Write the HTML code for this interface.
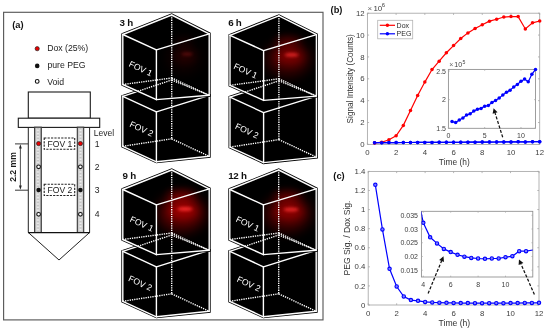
<!DOCTYPE html>
<html><head><meta charset="utf-8"><style>
html,body{margin:0;padding:0;background:#fff;}
svg{display:block;will-change:transform;}
text{font-family:"Liberation Sans", sans-serif;}
</style></head><body>
<svg width="550" height="331" viewBox="0 0 550 331">
<rect width="550" height="331" fill="#fff"/>
<rect x="3.6" y="12.3" width="319.4" height="307.6" fill="none" stroke="#5a5a5a" stroke-width="1.15"/>
<text x="12.2" y="27.6" font-size="9.3" font-weight="bold" fill="#111">(a)</text>
<circle cx="37.2" cy="48.7" r="2.1" fill="#e80000" stroke="#222" stroke-width="0.7"/>
<text x="47.2" y="50.7" font-size="8.7" fill="#222">Dox (25%)</text>
<circle cx="37.2" cy="65.9" r="2.3" fill="#111"/>
<text x="47.4" y="68.4" font-size="8.7" fill="#222">pure PEG</text>
<circle cx="37.2" cy="81.4" r="1.85" fill="#fff" stroke="#111" stroke-width="1.1"/>
<text x="47.2" y="84.7" font-size="8.7" fill="#222">Void</text>
<rect x="28.3" y="92" width="62" height="26.2" fill="#fff" stroke="#1a1a1a" stroke-width="1.1"/>
<rect x="18.3" y="118.2" width="81.4" height="9.2" fill="#fff" stroke="#1a1a1a" stroke-width="1.1"/>
<defs><filter id="blurA" x="-100%" y="-100%" width="300%" height="300%"><feGaussianBlur stdDeviation="6"/></filter><filter id="blurB" x="-100%" y="-100%" width="300%" height="300%"><feGaussianBlur stdDeviation="1.6"/></filter><filter id="blurC" x="-100%" y="-100%" width="300%" height="300%"><feGaussianBlur stdDeviation="4"/></filter></defs>
<defs><linearGradient id="ch" x1="0" x2="1" y1="0" y2="0"><stop offset="0" stop-color="#a0a0a0"/><stop offset="0.22" stop-color="#d4d4d4"/><stop offset="0.5" stop-color="#eeeeee"/><stop offset="0.78" stop-color="#d4d4d4"/><stop offset="1" stop-color="#a0a0a0"/></linearGradient></defs>
<line x1="28.3" y1="127.2" x2="28.3" y2="232.5" stroke="#222" stroke-width="1"/>
<line x1="89.6" y1="127.2" x2="89.6" y2="232.5" stroke="#222" stroke-width="1"/>
<rect x="34.6" y="127.2" width="6.7" height="105.3" fill="url(#ch)" stroke="#3a3a3a" stroke-width="1.1"/>
<line x1="37.95" y1="128" x2="37.95" y2="232" stroke="#c6c6c6" stroke-width="2.2" stroke-dasharray="1.6 1.6"/>
<rect x="77.3" y="127.2" width="6.4" height="105.3" fill="url(#ch)" stroke="#3a3a3a" stroke-width="1.1"/>
<line x1="80.5" y1="128" x2="80.5" y2="232" stroke="#c6c6c6" stroke-width="2.2" stroke-dasharray="1.6 1.6"/>
<polygon points="28.3,232.5 89.6,232.5 59,260" fill="#fff" stroke="#222" stroke-width="1"/><line x1="28" y1="232.6" x2="89.9" y2="232.6" stroke="#111" stroke-width="1.3"/>
<circle cx="38.6" cy="143.6" r="2.1" fill="#e80000" stroke="#222" stroke-width="0.7"/>
<circle cx="80.4" cy="143.6" r="2.1" fill="#e80000" stroke="#222" stroke-width="0.7"/>
<text x="94.8" y="146.5" font-size="8.6" fill="#222">1</text>
<circle cx="38.6" cy="166.8" r="1.85" fill="#fff" stroke="#111" stroke-width="1.1"/>
<circle cx="80.4" cy="166.8" r="1.85" fill="#fff" stroke="#111" stroke-width="1.1"/>
<text x="94.8" y="169.7" font-size="8.6" fill="#222">2</text>
<circle cx="38.6" cy="190.0" r="2.3" fill="#111"/>
<circle cx="80.4" cy="190.0" r="2.3" fill="#111"/>
<text x="94.8" y="192.9" font-size="8.6" fill="#222">3</text>
<circle cx="38.6" cy="214.3" r="1.85" fill="#fff" stroke="#111" stroke-width="1.1"/>
<circle cx="80.4" cy="214.3" r="1.85" fill="#fff" stroke="#111" stroke-width="1.1"/>
<text x="94.8" y="217.2" font-size="8.6" fill="#222">4</text>
<text x="93.8" y="135.8" font-size="8.5" fill="#222">Level</text>
<rect x="44.2" y="138" width="30.5" height="11.3" fill="#fff" stroke="#222" stroke-width="1.1" stroke-dasharray="2.2 1.2"/>
<text x="59.9" y="146.8" font-size="8.6" text-anchor="middle" fill="#222">FOV 1</text>
<rect x="44.2" y="184.2" width="30.5" height="11.3" fill="#fff" stroke="#222" stroke-width="1.1" stroke-dasharray="2.2 1.2"/>
<text x="59.9" y="193" font-size="8.6" text-anchor="middle" fill="#222">FOV 2</text>
<line x1="15" y1="143.9" x2="28" y2="143.9" stroke="#222" stroke-width="0.9"/>
<line x1="15" y1="190.2" x2="28" y2="190.2" stroke="#222" stroke-width="0.9"/>
<line x1="20.4" y1="146" x2="20.4" y2="188" stroke="#222" stroke-width="0.8"/>
<polygon points="20.4,144.3 19,148.5 21.8,148.5" fill="#222"/>
<polygon points="20.4,189.8 19,185.6 21.8,185.6" fill="#222"/>
<text transform="translate(16.4,167) rotate(-90)" font-size="8.6" font-weight="bold" text-anchor="middle" fill="#1a1a1a">2.2 mm</text>
<text x="119.6" y="25.7" font-size="9.8" letter-spacing="-0.3" font-weight="bold" fill="#111">3 h</text>
<polygon points="122.8,96.3 171.7,80 209.2,95.3 209.2,156.3 156.4,161.8 122.8,146.3" fill="#000" stroke="#000" stroke-width="3" stroke-linejoin="miter"/>
<line x1="122.8" y1="96.3" x2="156.4" y2="111.8" stroke="#fff" stroke-width="1.4" stroke-linecap="round"/>
<line x1="156.4" y1="111.8" x2="209.2" y2="95.3" stroke="#fff" stroke-width="1.4" stroke-linecap="round"/>
<line x1="122.8" y1="96.3" x2="171.7" y2="80" stroke="#fff" stroke-width="1.4" stroke-linecap="round"/>
<line x1="122.8" y1="96.3" x2="122.8" y2="146.3" stroke="#fff" stroke-width="1.4" stroke-linecap="round"/>
<line x1="156.4" y1="111.8" x2="156.4" y2="161.8" stroke="#fff" stroke-width="1.4" stroke-linecap="round"/>
<line x1="209.2" y1="95.3" x2="209.2" y2="156.3" stroke="#fff" stroke-width="1.4" stroke-linecap="round"/>
<line x1="122.8" y1="146.3" x2="156.4" y2="161.8" stroke="#fff" stroke-width="1.4" stroke-linecap="round"/>
<line x1="156.4" y1="161.8" x2="209.2" y2="156.3" stroke="#fff" stroke-width="1.4" stroke-linecap="round"/>
<polygon points="122.8,34.5 171.7,15 209.2,33.8 209.2,95.3 156.4,99.6 122.8,84.5" fill="#000" stroke="#000" stroke-width="3" stroke-linejoin="miter"/>
<clipPath id="clip1"><polygon points="122.8,34.5 171.7,15 209.2,33.8 209.2,95.3 156.4,99.6 122.8,84.5"/></clipPath>
<clipPath id="cr1"><polygon points="122.8,34.5 171.7,15 209.2,33.8 209.2,95.3 156.4,99.6 156.4,49.8"/></clipPath>
<g clip-path="url(#cr1)"><ellipse cx="183.7" cy="58" rx="17.0" ry="15.2" fill="#a00000" opacity="0.099" filter="url(#blurA)"/>
<ellipse cx="185.2" cy="55.5" rx="10.5" ry="7.6" fill="#a00000" opacity="0.154" filter="url(#blurC)"/>
<ellipse cx="183.7" cy="41" rx="10.0" ry="4.4" fill="#a00000" opacity="0.11" filter="url(#blurC)"/>
<ellipse cx="187.2" cy="54" rx="5.5" ry="1.76" fill="#ff3030" opacity="0.22" filter="url(#blurB)"/></g>
<line x1="122.8" y1="34.5" x2="171.7" y2="15" stroke="#fff" stroke-width="1.4" stroke-linecap="round"/>
<line x1="171.7" y1="15" x2="209.2" y2="33.8" stroke="#fff" stroke-width="1.4" stroke-linecap="round"/>
<line x1="209.2" y1="33.8" x2="156.4" y2="49.8" stroke="#fff" stroke-width="1.4" stroke-linecap="round"/>
<line x1="156.4" y1="49.8" x2="122.8" y2="34.5" stroke="#fff" stroke-width="1.4" stroke-linecap="round"/>
<line x1="122.8" y1="34.5" x2="122.8" y2="84.5" stroke="#fff" stroke-width="1.4" stroke-linecap="round"/>
<line x1="156.4" y1="49.8" x2="156.4" y2="99.6" stroke="#fff" stroke-width="1.4" stroke-linecap="round"/>
<line x1="209.2" y1="33.8" x2="209.2" y2="95.3" stroke="#fff" stroke-width="1.4" stroke-linecap="round"/>
<line x1="122.8" y1="84.5" x2="156.4" y2="99.6" stroke="#fff" stroke-width="1.4" stroke-linecap="round"/>
<line x1="156.4" y1="99.6" x2="209.2" y2="95.3" stroke="#fff" stroke-width="1.4" stroke-linecap="round"/>
<line x1="171.7" y1="15" x2="171.7" y2="138.8" stroke="#fff" stroke-width="1.4" stroke-dasharray="1.3 1.0"/>
<line x1="122.8" y1="84.5" x2="171.7" y2="78" stroke="#fff" stroke-width="1.4" stroke-dasharray="1.3 1.0"/>
<line x1="171.7" y1="78" x2="209.2" y2="95.3" stroke="#fff" stroke-width="1.4" stroke-dasharray="1.3 1.0"/>
<line x1="137.88" y1="91.27" x2="171.7" y2="80" stroke="#fff" stroke-width="1.4" stroke-dasharray="1.3 1.0"/>
<line x1="171.7" y1="80" x2="209.2" y2="95.3" stroke="#fff" stroke-width="1.4" stroke-dasharray="1.3 1.0"/>
<line x1="122.8" y1="146.3" x2="171.7" y2="138.8" stroke="#fff" stroke-width="1.4" stroke-dasharray="1.3 1.0"/>
<line x1="171.7" y1="138.8" x2="209.2" y2="156.3" stroke="#fff" stroke-width="1.4" stroke-dasharray="1.3 1.0"/>
<text transform="translate(128.2,66) rotate(25)" font-size="8.6" fill="#fff">FOV 1</text>
<text transform="translate(129.1,126.3) rotate(25)" font-size="8.6" fill="#fff">FOV 2</text>
<text x="228.2" y="25.7" font-size="9.8" letter-spacing="-0.3" font-weight="bold" fill="#111">6 h</text>
<polygon points="230,97.1 278.9,80.8 316.4,96.1 316.4,157.1 263.6,162.6 230,147.1" fill="#000" stroke="#000" stroke-width="3" stroke-linejoin="miter"/>
<line x1="230" y1="97.1" x2="263.6" y2="112.6" stroke="#fff" stroke-width="1.4" stroke-linecap="round"/>
<line x1="263.6" y1="112.6" x2="316.4" y2="96.1" stroke="#fff" stroke-width="1.4" stroke-linecap="round"/>
<line x1="230" y1="97.1" x2="278.9" y2="80.8" stroke="#fff" stroke-width="1.4" stroke-linecap="round"/>
<line x1="230" y1="97.1" x2="230" y2="147.1" stroke="#fff" stroke-width="1.4" stroke-linecap="round"/>
<line x1="263.6" y1="112.6" x2="263.6" y2="162.6" stroke="#fff" stroke-width="1.4" stroke-linecap="round"/>
<line x1="316.4" y1="96.1" x2="316.4" y2="157.1" stroke="#fff" stroke-width="1.4" stroke-linecap="round"/>
<line x1="230" y1="147.1" x2="263.6" y2="162.6" stroke="#fff" stroke-width="1.4" stroke-linecap="round"/>
<line x1="263.6" y1="162.6" x2="316.4" y2="157.1" stroke="#fff" stroke-width="1.4" stroke-linecap="round"/>
<polygon points="230,35.3 278.9,15.8 316.4,34.6 316.4,96.1 263.6,100.4 230,85.3" fill="#000" stroke="#000" stroke-width="3" stroke-linejoin="miter"/>
<clipPath id="clip2"><polygon points="230,35.3 278.9,15.8 316.4,34.6 316.4,96.1 263.6,100.4 230,85.3"/></clipPath>
<clipPath id="cr2"><polygon points="230,35.3 278.9,15.8 316.4,34.6 316.4,96.1 263.6,100.4 263.6,50.6"/></clipPath>
<g clip-path="url(#cr2)"><ellipse cx="288.1" cy="58.8" rx="22.099999999999998" ry="17.099999999999998" fill="#c00000" opacity="0.30600000000000005" filter="url(#blurA)"/>
<ellipse cx="289.6" cy="56.3" rx="13.65" ry="8.549999999999999" fill="#c00000" opacity="0.476" filter="url(#blurC)"/>
<ellipse cx="288.1" cy="41.8" rx="13.0" ry="4.95" fill="#c00000" opacity="0.34" filter="url(#blurC)"/>
<ellipse cx="291.6" cy="54.8" rx="7.15" ry="1.98" fill="#ff3030" opacity="0.68" filter="url(#blurB)"/></g>
<line x1="230" y1="35.3" x2="278.9" y2="15.8" stroke="#fff" stroke-width="1.4" stroke-linecap="round"/>
<line x1="278.9" y1="15.8" x2="316.4" y2="34.6" stroke="#fff" stroke-width="1.4" stroke-linecap="round"/>
<line x1="316.4" y1="34.6" x2="263.6" y2="50.6" stroke="#fff" stroke-width="1.4" stroke-linecap="round"/>
<line x1="263.6" y1="50.6" x2="230" y2="35.3" stroke="#fff" stroke-width="1.4" stroke-linecap="round"/>
<line x1="230" y1="35.3" x2="230" y2="85.3" stroke="#fff" stroke-width="1.4" stroke-linecap="round"/>
<line x1="263.6" y1="50.6" x2="263.6" y2="100.4" stroke="#fff" stroke-width="1.4" stroke-linecap="round"/>
<line x1="316.4" y1="34.6" x2="316.4" y2="96.1" stroke="#fff" stroke-width="1.4" stroke-linecap="round"/>
<line x1="230" y1="85.3" x2="263.6" y2="100.4" stroke="#fff" stroke-width="1.4" stroke-linecap="round"/>
<line x1="263.6" y1="100.4" x2="316.4" y2="96.1" stroke="#fff" stroke-width="1.4" stroke-linecap="round"/>
<line x1="278.9" y1="15.8" x2="278.9" y2="139.6" stroke="#fff" stroke-width="1.4" stroke-dasharray="1.3 1.0"/>
<line x1="230" y1="85.3" x2="278.9" y2="78.8" stroke="#fff" stroke-width="1.4" stroke-dasharray="1.3 1.0"/>
<line x1="278.9" y1="78.8" x2="316.4" y2="96.1" stroke="#fff" stroke-width="1.4" stroke-dasharray="1.3 1.0"/>
<line x1="245.08" y1="92.07" x2="278.9" y2="80.8" stroke="#fff" stroke-width="1.4" stroke-dasharray="1.3 1.0"/>
<line x1="278.9" y1="80.8" x2="316.4" y2="96.1" stroke="#fff" stroke-width="1.4" stroke-dasharray="1.3 1.0"/>
<line x1="230" y1="147.1" x2="278.9" y2="139.6" stroke="#fff" stroke-width="1.4" stroke-dasharray="1.3 1.0"/>
<line x1="278.9" y1="139.6" x2="316.4" y2="157.1" stroke="#fff" stroke-width="1.4" stroke-dasharray="1.3 1.0"/>
<text transform="translate(233.1,68.2) rotate(25)" font-size="8.6" fill="#fff">FOV 1</text>
<text transform="translate(234.4,128.2) rotate(25)" font-size="8.6" fill="#fff">FOV 2</text>
<text x="122.6" y="179.2" font-size="9.8" letter-spacing="-0.3" font-weight="bold" fill="#111">9 h</text>
<polygon points="122.8,251.3 171.7,235 209.2,250.3 209.2,311.3 156.4,316.8 122.8,301.3" fill="#000" stroke="#000" stroke-width="3" stroke-linejoin="miter"/>
<line x1="122.8" y1="251.3" x2="156.4" y2="266.8" stroke="#fff" stroke-width="1.4" stroke-linecap="round"/>
<line x1="156.4" y1="266.8" x2="209.2" y2="250.3" stroke="#fff" stroke-width="1.4" stroke-linecap="round"/>
<line x1="122.8" y1="251.3" x2="171.7" y2="235" stroke="#fff" stroke-width="1.4" stroke-linecap="round"/>
<line x1="122.8" y1="251.3" x2="122.8" y2="301.3" stroke="#fff" stroke-width="1.4" stroke-linecap="round"/>
<line x1="156.4" y1="266.8" x2="156.4" y2="316.8" stroke="#fff" stroke-width="1.4" stroke-linecap="round"/>
<line x1="209.2" y1="250.3" x2="209.2" y2="311.3" stroke="#fff" stroke-width="1.4" stroke-linecap="round"/>
<line x1="122.8" y1="301.3" x2="156.4" y2="316.8" stroke="#fff" stroke-width="1.4" stroke-linecap="round"/>
<line x1="156.4" y1="316.8" x2="209.2" y2="311.3" stroke="#fff" stroke-width="1.4" stroke-linecap="round"/>
<polygon points="122.8,189.5 171.7,170 209.2,188.8 209.2,250.3 156.4,254.6 122.8,239.5" fill="#000" stroke="#000" stroke-width="3" stroke-linejoin="miter"/>
<clipPath id="clip3"><polygon points="122.8,189.5 171.7,170 209.2,188.8 209.2,250.3 156.4,254.6 122.8,239.5"/></clipPath>
<clipPath id="cr3"><polygon points="122.8,189.5 171.7,170 209.2,188.8 209.2,250.3 156.4,254.6 156.4,204.8"/></clipPath>
<g clip-path="url(#cr3)"><ellipse cx="181.5" cy="213" rx="23.8" ry="19.0" fill="#d80000" opacity="0.35100000000000003" filter="url(#blurA)"/>
<ellipse cx="183" cy="210.5" rx="14.700000000000001" ry="9.5" fill="#d80000" opacity="0.5459999999999999" filter="url(#blurC)"/>
<ellipse cx="181.5" cy="196" rx="14.0" ry="5.5" fill="#d80000" opacity="0.39" filter="url(#blurC)"/>
<ellipse cx="185" cy="209" rx="7.700000000000001" ry="2.2" fill="#ff3030" opacity="0.78" filter="url(#blurB)"/></g>
<line x1="122.8" y1="189.5" x2="171.7" y2="170" stroke="#fff" stroke-width="1.4" stroke-linecap="round"/>
<line x1="171.7" y1="170" x2="209.2" y2="188.8" stroke="#fff" stroke-width="1.4" stroke-linecap="round"/>
<line x1="209.2" y1="188.8" x2="156.4" y2="204.8" stroke="#fff" stroke-width="1.4" stroke-linecap="round"/>
<line x1="156.4" y1="204.8" x2="122.8" y2="189.5" stroke="#fff" stroke-width="1.4" stroke-linecap="round"/>
<line x1="122.8" y1="189.5" x2="122.8" y2="239.5" stroke="#fff" stroke-width="1.4" stroke-linecap="round"/>
<line x1="156.4" y1="204.8" x2="156.4" y2="254.6" stroke="#fff" stroke-width="1.4" stroke-linecap="round"/>
<line x1="209.2" y1="188.8" x2="209.2" y2="250.3" stroke="#fff" stroke-width="1.4" stroke-linecap="round"/>
<line x1="122.8" y1="239.5" x2="156.4" y2="254.6" stroke="#fff" stroke-width="1.4" stroke-linecap="round"/>
<line x1="156.4" y1="254.6" x2="209.2" y2="250.3" stroke="#fff" stroke-width="1.4" stroke-linecap="round"/>
<line x1="171.7" y1="170" x2="171.7" y2="293.8" stroke="#fff" stroke-width="1.4" stroke-dasharray="1.3 1.0"/>
<line x1="122.8" y1="239.5" x2="171.7" y2="233" stroke="#fff" stroke-width="1.4" stroke-dasharray="1.3 1.0"/>
<line x1="171.7" y1="233" x2="209.2" y2="250.3" stroke="#fff" stroke-width="1.4" stroke-dasharray="1.3 1.0"/>
<line x1="137.88" y1="246.27" x2="171.7" y2="235" stroke="#fff" stroke-width="1.4" stroke-dasharray="1.3 1.0"/>
<line x1="171.7" y1="235" x2="209.2" y2="250.3" stroke="#fff" stroke-width="1.4" stroke-dasharray="1.3 1.0"/>
<line x1="122.8" y1="301.3" x2="171.7" y2="293.8" stroke="#fff" stroke-width="1.4" stroke-dasharray="1.3 1.0"/>
<line x1="171.7" y1="293.8" x2="209.2" y2="311.3" stroke="#fff" stroke-width="1.4" stroke-dasharray="1.3 1.0"/>
<text transform="translate(129.3,221.3) rotate(25)" font-size="8.6" fill="#fff">FOV 1</text>
<text transform="translate(127.8,280.6) rotate(25)" font-size="8.6" fill="#fff">FOV 2</text>
<text x="228.2" y="179.2" font-size="9.8" letter-spacing="-0.3" font-weight="bold" fill="#111">12 h</text>
<polygon points="229.8,251.3 278.7,235 316.2,250.3 316.2,311.3 263.4,316.8 229.8,301.3" fill="#000" stroke="#000" stroke-width="3" stroke-linejoin="miter"/>
<line x1="229.8" y1="251.3" x2="263.4" y2="266.8" stroke="#fff" stroke-width="1.4" stroke-linecap="round"/>
<line x1="263.4" y1="266.8" x2="316.2" y2="250.3" stroke="#fff" stroke-width="1.4" stroke-linecap="round"/>
<line x1="229.8" y1="251.3" x2="278.7" y2="235" stroke="#fff" stroke-width="1.4" stroke-linecap="round"/>
<line x1="229.8" y1="251.3" x2="229.8" y2="301.3" stroke="#fff" stroke-width="1.4" stroke-linecap="round"/>
<line x1="263.4" y1="266.8" x2="263.4" y2="316.8" stroke="#fff" stroke-width="1.4" stroke-linecap="round"/>
<line x1="316.2" y1="250.3" x2="316.2" y2="311.3" stroke="#fff" stroke-width="1.4" stroke-linecap="round"/>
<line x1="229.8" y1="301.3" x2="263.4" y2="316.8" stroke="#fff" stroke-width="1.4" stroke-linecap="round"/>
<line x1="263.4" y1="316.8" x2="316.2" y2="311.3" stroke="#fff" stroke-width="1.4" stroke-linecap="round"/>
<polygon points="229.8,189.5 278.7,170 316.2,188.8 316.2,250.3 263.4,254.6 229.8,239.5" fill="#000" stroke="#000" stroke-width="3" stroke-linejoin="miter"/>
<clipPath id="clip4"><polygon points="229.8,189.5 278.7,170 316.2,188.8 316.2,250.3 263.4,254.6 229.8,239.5"/></clipPath>
<clipPath id="cr4"><polygon points="229.8,189.5 278.7,170 316.2,188.8 316.2,250.3 263.4,254.6 263.4,204.8"/></clipPath>
<g clip-path="url(#cr4)"><ellipse cx="287.5" cy="213.5" rx="22.95" ry="18.05" fill="#d00000" opacity="0.324" filter="url(#blurA)"/>
<ellipse cx="289" cy="211" rx="14.175" ry="9.025" fill="#d00000" opacity="0.504" filter="url(#blurC)"/>
<ellipse cx="287.5" cy="196.5" rx="13.5" ry="5.2250000000000005" fill="#d00000" opacity="0.36" filter="url(#blurC)"/>
<ellipse cx="291" cy="209.5" rx="7.425000000000001" ry="2.09" fill="#ff3030" opacity="0.72" filter="url(#blurB)"/></g>
<line x1="229.8" y1="189.5" x2="278.7" y2="170" stroke="#fff" stroke-width="1.4" stroke-linecap="round"/>
<line x1="278.7" y1="170" x2="316.2" y2="188.8" stroke="#fff" stroke-width="1.4" stroke-linecap="round"/>
<line x1="316.2" y1="188.8" x2="263.4" y2="204.8" stroke="#fff" stroke-width="1.4" stroke-linecap="round"/>
<line x1="263.4" y1="204.8" x2="229.8" y2="189.5" stroke="#fff" stroke-width="1.4" stroke-linecap="round"/>
<line x1="229.8" y1="189.5" x2="229.8" y2="239.5" stroke="#fff" stroke-width="1.4" stroke-linecap="round"/>
<line x1="263.4" y1="204.8" x2="263.4" y2="254.6" stroke="#fff" stroke-width="1.4" stroke-linecap="round"/>
<line x1="316.2" y1="188.8" x2="316.2" y2="250.3" stroke="#fff" stroke-width="1.4" stroke-linecap="round"/>
<line x1="229.8" y1="239.5" x2="263.4" y2="254.6" stroke="#fff" stroke-width="1.4" stroke-linecap="round"/>
<line x1="263.4" y1="254.6" x2="316.2" y2="250.3" stroke="#fff" stroke-width="1.4" stroke-linecap="round"/>
<line x1="278.7" y1="170" x2="278.7" y2="293.8" stroke="#fff" stroke-width="1.4" stroke-dasharray="1.3 1.0"/>
<line x1="229.8" y1="239.5" x2="278.7" y2="233" stroke="#fff" stroke-width="1.4" stroke-dasharray="1.3 1.0"/>
<line x1="278.7" y1="233" x2="316.2" y2="250.3" stroke="#fff" stroke-width="1.4" stroke-dasharray="1.3 1.0"/>
<line x1="244.88" y1="246.27" x2="278.7" y2="235" stroke="#fff" stroke-width="1.4" stroke-dasharray="1.3 1.0"/>
<line x1="278.7" y1="235" x2="316.2" y2="250.3" stroke="#fff" stroke-width="1.4" stroke-dasharray="1.3 1.0"/>
<line x1="229.8" y1="301.3" x2="278.7" y2="293.8" stroke="#fff" stroke-width="1.4" stroke-dasharray="1.3 1.0"/>
<line x1="278.7" y1="293.8" x2="316.2" y2="311.3" stroke="#fff" stroke-width="1.4" stroke-dasharray="1.3 1.0"/>
<text transform="translate(235.2,221.3) rotate(25)" font-size="8.6" fill="#fff">FOV 1</text>
<text transform="translate(236.3,281.3) rotate(25)" font-size="8.6" fill="#fff">FOV 2</text>
<text x="330.6" y="13.3" font-size="9.3" font-weight="bold" fill="#111">(b)</text>
<rect x="367.4" y="13.2" width="172.3" height="131.2" fill="none" stroke="#a6a6a6" stroke-width="0.85"/>
<line x1="367.4" y1="144.4" x2="367.4" y2="142.7" stroke="#a6a6a6" stroke-width="0.8"/>
<line x1="367.4" y1="13.2" x2="367.4" y2="14.9" stroke="#a6a6a6" stroke-width="0.8"/>
<line x1="367.4" y1="144.4" x2="369.1" y2="144.4" stroke="#a6a6a6" stroke-width="0.8"/>
<line x1="539.7" y1="144.4" x2="538" y2="144.4" stroke="#a6a6a6" stroke-width="0.8"/>
<text x="367.4" y="154.7" font-size="7.8" text-anchor="middle" fill="#404040">0</text>
<text x="364.6" y="147" font-size="7.8" text-anchor="end" fill="#404040">0</text>
<line x1="396.12" y1="144.4" x2="396.12" y2="142.7" stroke="#a6a6a6" stroke-width="0.8"/>
<line x1="396.12" y1="13.2" x2="396.12" y2="14.9" stroke="#a6a6a6" stroke-width="0.8"/>
<line x1="367.4" y1="122.53" x2="369.1" y2="122.53" stroke="#a6a6a6" stroke-width="0.8"/>
<line x1="539.7" y1="122.53" x2="538" y2="122.53" stroke="#a6a6a6" stroke-width="0.8"/>
<text x="396.12" y="154.7" font-size="7.8" text-anchor="middle" fill="#404040">2</text>
<text x="364.6" y="125.13" font-size="7.8" text-anchor="end" fill="#404040">2</text>
<line x1="424.83" y1="144.4" x2="424.83" y2="142.7" stroke="#a6a6a6" stroke-width="0.8"/>
<line x1="424.83" y1="13.2" x2="424.83" y2="14.9" stroke="#a6a6a6" stroke-width="0.8"/>
<line x1="367.4" y1="100.67" x2="369.1" y2="100.67" stroke="#a6a6a6" stroke-width="0.8"/>
<line x1="539.7" y1="100.67" x2="538" y2="100.67" stroke="#a6a6a6" stroke-width="0.8"/>
<text x="424.83" y="154.7" font-size="7.8" text-anchor="middle" fill="#404040">4</text>
<text x="364.6" y="103.27" font-size="7.8" text-anchor="end" fill="#404040">4</text>
<line x1="453.55" y1="144.4" x2="453.55" y2="142.7" stroke="#a6a6a6" stroke-width="0.8"/>
<line x1="453.55" y1="13.2" x2="453.55" y2="14.9" stroke="#a6a6a6" stroke-width="0.8"/>
<line x1="367.4" y1="78.8" x2="369.1" y2="78.8" stroke="#a6a6a6" stroke-width="0.8"/>
<line x1="539.7" y1="78.8" x2="538" y2="78.8" stroke="#a6a6a6" stroke-width="0.8"/>
<text x="453.55" y="154.7" font-size="7.8" text-anchor="middle" fill="#404040">6</text>
<text x="364.6" y="81.4" font-size="7.8" text-anchor="end" fill="#404040">6</text>
<line x1="482.27" y1="144.4" x2="482.27" y2="142.7" stroke="#a6a6a6" stroke-width="0.8"/>
<line x1="482.27" y1="13.2" x2="482.27" y2="14.9" stroke="#a6a6a6" stroke-width="0.8"/>
<line x1="367.4" y1="56.93" x2="369.1" y2="56.93" stroke="#a6a6a6" stroke-width="0.8"/>
<line x1="539.7" y1="56.93" x2="538" y2="56.93" stroke="#a6a6a6" stroke-width="0.8"/>
<text x="482.27" y="154.7" font-size="7.8" text-anchor="middle" fill="#404040">8</text>
<text x="364.6" y="59.53" font-size="7.8" text-anchor="end" fill="#404040">8</text>
<line x1="510.98" y1="144.4" x2="510.98" y2="142.7" stroke="#a6a6a6" stroke-width="0.8"/>
<line x1="510.98" y1="13.2" x2="510.98" y2="14.9" stroke="#a6a6a6" stroke-width="0.8"/>
<line x1="367.4" y1="35.07" x2="369.1" y2="35.07" stroke="#a6a6a6" stroke-width="0.8"/>
<line x1="539.7" y1="35.07" x2="538" y2="35.07" stroke="#a6a6a6" stroke-width="0.8"/>
<text x="510.98" y="154.7" font-size="7.8" text-anchor="middle" fill="#404040">10</text>
<text x="364.6" y="37.67" font-size="7.8" text-anchor="end" fill="#404040">10</text>
<line x1="539.7" y1="144.4" x2="539.7" y2="142.7" stroke="#a6a6a6" stroke-width="0.8"/>
<line x1="539.7" y1="13.2" x2="539.7" y2="14.9" stroke="#a6a6a6" stroke-width="0.8"/>
<line x1="367.4" y1="13.2" x2="369.1" y2="13.2" stroke="#a6a6a6" stroke-width="0.8"/>
<line x1="539.7" y1="13.2" x2="538" y2="13.2" stroke="#a6a6a6" stroke-width="0.8"/>
<text x="539.7" y="154.7" font-size="7.8" text-anchor="middle" fill="#404040">12</text>
<text x="364.6" y="15.8" font-size="7.8" text-anchor="end" fill="#404040">12</text>
<text x="367.6" y="10.9" font-size="7.9" fill="#404040"><tspan fill="#666">×</tspan><tspan dx="1.2">10</tspan><tspan font-size="5.9" dy="-3.8" dx="-0.5">6</tspan></text>
<text x="454.3" y="165.1" font-size="8.4" text-anchor="middle" fill="#333">Time (h)</text>
<text transform="translate(353.2,78.8) rotate(-90)" font-size="8.2" text-anchor="middle" fill="#333">Signal Intensity (Counts)</text>
<polyline points="374.58,142.64 381.76,142.65 388.94,142.61 396.12,142.57 403.3,142.52 410.48,142.49 417.65,142.44 424.83,142.41 432.01,142.39 439.19,142.35 446.37,142.34 453.55,142.28 460.73,142.25 467.91,142.2 475.09,142.14 482.27,142.09 489.45,142.05 496.62,141.99 503.8,141.95 510.98,141.89 518.16,141.85 525.34,141.9 532.52,141.76 539.7,141.67" fill="none" stroke="#0000ff" stroke-width="1.2"/>
<circle cx="374.58" cy="142.64" r="1.75" fill="#0000ff"/>
<circle cx="381.76" cy="142.65" r="1.75" fill="#0000ff"/>
<circle cx="388.94" cy="142.61" r="1.75" fill="#0000ff"/>
<circle cx="396.12" cy="142.57" r="1.75" fill="#0000ff"/>
<circle cx="403.3" cy="142.52" r="1.75" fill="#0000ff"/>
<circle cx="410.48" cy="142.49" r="1.75" fill="#0000ff"/>
<circle cx="417.65" cy="142.44" r="1.75" fill="#0000ff"/>
<circle cx="424.83" cy="142.41" r="1.75" fill="#0000ff"/>
<circle cx="432.01" cy="142.39" r="1.75" fill="#0000ff"/>
<circle cx="439.19" cy="142.35" r="1.75" fill="#0000ff"/>
<circle cx="446.37" cy="142.34" r="1.75" fill="#0000ff"/>
<circle cx="453.55" cy="142.28" r="1.75" fill="#0000ff"/>
<circle cx="460.73" cy="142.25" r="1.75" fill="#0000ff"/>
<circle cx="467.91" cy="142.2" r="1.75" fill="#0000ff"/>
<circle cx="475.09" cy="142.14" r="1.75" fill="#0000ff"/>
<circle cx="482.27" cy="142.09" r="1.75" fill="#0000ff"/>
<circle cx="489.45" cy="142.05" r="1.75" fill="#0000ff"/>
<circle cx="496.62" cy="141.99" r="1.75" fill="#0000ff"/>
<circle cx="503.8" cy="141.95" r="1.75" fill="#0000ff"/>
<circle cx="510.98" cy="141.89" r="1.75" fill="#0000ff"/>
<circle cx="518.16" cy="141.85" r="1.75" fill="#0000ff"/>
<circle cx="525.34" cy="141.9" r="1.75" fill="#0000ff"/>
<circle cx="532.52" cy="141.76" r="1.75" fill="#0000ff"/>
<circle cx="539.7" cy="141.67" r="1.75" fill="#0000ff"/>
<polyline points="374.58,143 381.76,142.21 388.94,139.81 396.12,135.76 403.3,125.38 410.48,110.51 417.65,95.42 424.83,82.08 432.01,69.51 439.19,61.2 446.37,52.78 453.55,45.56 460.73,38.57 467.91,32.88 475.09,28.4 482.27,24.68 489.45,21.18 496.62,19.21 503.8,17.03 510.98,16.59 518.16,16.59 525.34,28.94 532.52,22.82 539.7,20.96" fill="none" stroke="#ff0000" stroke-width="1.2"/>
<circle cx="374.58" cy="143" r="1.75" fill="#ff0000"/>
<circle cx="381.76" cy="142.21" r="1.75" fill="#ff0000"/>
<circle cx="388.94" cy="139.81" r="1.75" fill="#ff0000"/>
<circle cx="396.12" cy="135.76" r="1.75" fill="#ff0000"/>
<circle cx="403.3" cy="125.38" r="1.75" fill="#ff0000"/>
<circle cx="410.48" cy="110.51" r="1.75" fill="#ff0000"/>
<circle cx="417.65" cy="95.42" r="1.75" fill="#ff0000"/>
<circle cx="424.83" cy="82.08" r="1.75" fill="#ff0000"/>
<circle cx="432.01" cy="69.51" r="1.75" fill="#ff0000"/>
<circle cx="439.19" cy="61.2" r="1.75" fill="#ff0000"/>
<circle cx="446.37" cy="52.78" r="1.75" fill="#ff0000"/>
<circle cx="453.55" cy="45.56" r="1.75" fill="#ff0000"/>
<circle cx="460.73" cy="38.57" r="1.75" fill="#ff0000"/>
<circle cx="467.91" cy="32.88" r="1.75" fill="#ff0000"/>
<circle cx="475.09" cy="28.4" r="1.75" fill="#ff0000"/>
<circle cx="482.27" cy="24.68" r="1.75" fill="#ff0000"/>
<circle cx="489.45" cy="21.18" r="1.75" fill="#ff0000"/>
<circle cx="496.62" cy="19.21" r="1.75" fill="#ff0000"/>
<circle cx="503.8" cy="17.03" r="1.75" fill="#ff0000"/>
<circle cx="510.98" cy="16.59" r="1.75" fill="#ff0000"/>
<circle cx="518.16" cy="16.59" r="1.75" fill="#ff0000"/>
<circle cx="525.34" cy="28.94" r="1.75" fill="#ff0000"/>
<circle cx="532.52" cy="22.82" r="1.75" fill="#ff0000"/>
<circle cx="539.7" cy="20.96" r="1.75" fill="#ff0000"/>
<polyline points="374.58,142.64 381.76,142.65 388.94,142.61 396.12,142.57 403.3,142.52 410.48,142.49 417.65,142.44 424.83,142.41 432.01,142.39 439.19,142.35 446.37,142.34 453.55,142.28 460.73,142.25 467.91,142.2 475.09,142.14 482.27,142.09 489.45,142.05 496.62,141.99 503.8,141.95 510.98,141.89 518.16,141.85 525.34,141.9 532.52,141.76 539.7,141.67" fill="none" stroke="#0000ff" stroke-width="1.2"/>
<circle cx="374.58" cy="142.64" r="1.75" fill="#0000ff"/>
<circle cx="381.76" cy="142.65" r="1.75" fill="#0000ff"/>
<circle cx="388.94" cy="142.61" r="1.75" fill="#0000ff"/>
<circle cx="396.12" cy="142.57" r="1.75" fill="#0000ff"/>
<circle cx="403.3" cy="142.52" r="1.75" fill="#0000ff"/>
<circle cx="410.48" cy="142.49" r="1.75" fill="#0000ff"/>
<circle cx="417.65" cy="142.44" r="1.75" fill="#0000ff"/>
<circle cx="424.83" cy="142.41" r="1.75" fill="#0000ff"/>
<circle cx="432.01" cy="142.39" r="1.75" fill="#0000ff"/>
<circle cx="439.19" cy="142.35" r="1.75" fill="#0000ff"/>
<circle cx="446.37" cy="142.34" r="1.75" fill="#0000ff"/>
<circle cx="453.55" cy="142.28" r="1.75" fill="#0000ff"/>
<circle cx="460.73" cy="142.25" r="1.75" fill="#0000ff"/>
<circle cx="467.91" cy="142.2" r="1.75" fill="#0000ff"/>
<circle cx="475.09" cy="142.14" r="1.75" fill="#0000ff"/>
<circle cx="482.27" cy="142.09" r="1.75" fill="#0000ff"/>
<circle cx="489.45" cy="142.05" r="1.75" fill="#0000ff"/>
<circle cx="496.62" cy="141.99" r="1.75" fill="#0000ff"/>
<circle cx="503.8" cy="141.95" r="1.75" fill="#0000ff"/>
<circle cx="510.98" cy="141.89" r="1.75" fill="#0000ff"/>
<circle cx="518.16" cy="141.85" r="1.75" fill="#0000ff"/>
<circle cx="525.34" cy="141.9" r="1.75" fill="#0000ff"/>
<circle cx="532.52" cy="141.76" r="1.75" fill="#0000ff"/>
<circle cx="539.7" cy="141.67" r="1.75" fill="#0000ff"/>
<rect x="377.7" y="20.3" width="35" height="18.5" fill="#fff" stroke="#b4b4b4" stroke-width="0.8"/>
<line x1="379.8" y1="25.3" x2="395" y2="25.3" stroke="#ff0000" stroke-width="1.2"/><circle cx="387.4" cy="25.3" r="1.75" fill="#ff0000"/>
<line x1="379.8" y1="33.8" x2="395" y2="33.8" stroke="#0000ff" stroke-width="1.2"/><circle cx="387.4" cy="33.8" r="1.75" fill="#0000ff"/>
<text x="396.6" y="27.8" font-size="7" fill="#2a2a2a">Dox</text>
<text x="396.6" y="36.4" font-size="7" fill="#2a2a2a">PEG</text>
<rect x="448.4" y="69.4" width="87.1" height="58.9" fill="#fff" stroke="#8c8c8c" stroke-width="0.85"/>
<line x1="448.4" y1="128.3" x2="449.7" y2="128.3" stroke="#a6a6a6" stroke-width="0.8"/>
<line x1="535.5" y1="128.3" x2="534.2" y2="128.3" stroke="#a6a6a6" stroke-width="0.8"/>
<text x="446" y="130.8" font-size="7" text-anchor="end" fill="#404040">1.5</text>
<line x1="448.4" y1="99.65" x2="449.7" y2="99.65" stroke="#a6a6a6" stroke-width="0.8"/>
<line x1="535.5" y1="99.65" x2="534.2" y2="99.65" stroke="#a6a6a6" stroke-width="0.8"/>
<text x="446" y="102.15" font-size="7" text-anchor="end" fill="#404040">2</text>
<line x1="448.4" y1="71" x2="449.7" y2="71" stroke="#a6a6a6" stroke-width="0.8"/>
<line x1="535.5" y1="71" x2="534.2" y2="71" stroke="#a6a6a6" stroke-width="0.8"/>
<text x="446" y="73.5" font-size="7" text-anchor="end" fill="#404040">2.5</text>
<line x1="448.4" y1="128.3" x2="448.4" y2="127" stroke="#a6a6a6" stroke-width="0.8"/>
<line x1="448.4" y1="69.4" x2="448.4" y2="70.7" stroke="#a6a6a6" stroke-width="0.8"/>
<text x="448.4" y="138.3" font-size="7" text-anchor="middle" fill="#404040">0</text>
<line x1="484.69" y1="128.3" x2="484.69" y2="127" stroke="#a6a6a6" stroke-width="0.8"/>
<line x1="484.69" y1="69.4" x2="484.69" y2="70.7" stroke="#a6a6a6" stroke-width="0.8"/>
<text x="484.69" y="138.3" font-size="7" text-anchor="middle" fill="#404040">5</text>
<line x1="520.98" y1="128.3" x2="520.98" y2="127" stroke="#a6a6a6" stroke-width="0.8"/>
<line x1="520.98" y1="69.4" x2="520.98" y2="70.7" stroke="#a6a6a6" stroke-width="0.8"/>
<text x="520.98" y="138.3" font-size="7" text-anchor="middle" fill="#404040">10</text>
<text x="449.2" y="67.4" font-size="7" fill="#404040"><tspan fill="#666">×</tspan><tspan dx="1">10</tspan><tspan font-size="5.2" dy="-3.6" dx="0.4">5</tspan></text>
<polyline points="452.03,121.59 455.66,122.59 459.29,120 462.92,117.99 466.55,115.11 470.17,113.87 473.8,111.1 477.43,109.28 481.06,108.39 484.69,106.27 488.32,105.51 491.95,102.62 495.58,100.56 499.21,98.08 502.84,94.9 506.47,92.37 510.1,90.13 513.73,87.07 517.35,84.42 520.98,81.3 524.61,79.12 528.24,81.77 531.87,74.29 535.5,69.4" fill="none" stroke="#0000ff" stroke-width="1.2"/>
<circle cx="452.03" cy="121.59" r="1.75" fill="#0000ff"/>
<circle cx="455.66" cy="122.59" r="1.75" fill="#0000ff"/>
<circle cx="459.29" cy="120" r="1.75" fill="#0000ff"/>
<circle cx="462.92" cy="117.99" r="1.75" fill="#0000ff"/>
<circle cx="466.55" cy="115.11" r="1.75" fill="#0000ff"/>
<circle cx="470.17" cy="113.87" r="1.75" fill="#0000ff"/>
<circle cx="473.8" cy="111.1" r="1.75" fill="#0000ff"/>
<circle cx="477.43" cy="109.28" r="1.75" fill="#0000ff"/>
<circle cx="481.06" cy="108.39" r="1.75" fill="#0000ff"/>
<circle cx="484.69" cy="106.27" r="1.75" fill="#0000ff"/>
<circle cx="488.32" cy="105.51" r="1.75" fill="#0000ff"/>
<circle cx="491.95" cy="102.62" r="1.75" fill="#0000ff"/>
<circle cx="495.58" cy="100.56" r="1.75" fill="#0000ff"/>
<circle cx="499.21" cy="98.08" r="1.75" fill="#0000ff"/>
<circle cx="502.84" cy="94.9" r="1.75" fill="#0000ff"/>
<circle cx="506.47" cy="92.37" r="1.75" fill="#0000ff"/>
<circle cx="510.1" cy="90.13" r="1.75" fill="#0000ff"/>
<circle cx="513.73" cy="87.07" r="1.75" fill="#0000ff"/>
<circle cx="517.35" cy="84.42" r="1.75" fill="#0000ff"/>
<circle cx="520.98" cy="81.3" r="1.75" fill="#0000ff"/>
<circle cx="524.61" cy="79.12" r="1.75" fill="#0000ff"/>
<circle cx="528.24" cy="81.77" r="1.75" fill="#0000ff"/>
<circle cx="531.87" cy="74.29" r="1.75" fill="#0000ff"/>
<circle cx="535.5" cy="69.4" r="1.75" fill="#0000ff"/>
<line x1="502.7" y1="137.3" x2="495.1" y2="113.07" stroke="#111" stroke-width="1.25" stroke-dasharray="3 1.7"/><polygon points="493.6,108.3 497.58,112.29 492.62,113.85" fill="#111"/>
<text x="333.3" y="178.6" font-size="9.3" font-weight="bold" fill="#111">(c)</text>
<rect x="368.2" y="171.4" width="170.8" height="133.6" fill="none" stroke="#a6a6a6" stroke-width="0.85"/>
<line x1="368.2" y1="305.0" x2="368.2" y2="303.3" stroke="#a6a6a6" stroke-width="0.8"/>
<line x1="368.2" y1="171.4" x2="368.2" y2="173.1" stroke="#a6a6a6" stroke-width="0.8"/>
<text x="368.2" y="315.8" font-size="7.8" text-anchor="middle" fill="#404040">0</text>
<line x1="396.67" y1="305.0" x2="396.67" y2="303.3" stroke="#a6a6a6" stroke-width="0.8"/>
<line x1="396.67" y1="171.4" x2="396.67" y2="173.1" stroke="#a6a6a6" stroke-width="0.8"/>
<text x="396.67" y="315.8" font-size="7.8" text-anchor="middle" fill="#404040">2</text>
<line x1="425.13" y1="305.0" x2="425.13" y2="303.3" stroke="#a6a6a6" stroke-width="0.8"/>
<line x1="425.13" y1="171.4" x2="425.13" y2="173.1" stroke="#a6a6a6" stroke-width="0.8"/>
<text x="425.13" y="315.8" font-size="7.8" text-anchor="middle" fill="#404040">4</text>
<line x1="453.6" y1="305.0" x2="453.6" y2="303.3" stroke="#a6a6a6" stroke-width="0.8"/>
<line x1="453.6" y1="171.4" x2="453.6" y2="173.1" stroke="#a6a6a6" stroke-width="0.8"/>
<text x="453.6" y="315.8" font-size="7.8" text-anchor="middle" fill="#404040">6</text>
<line x1="482.07" y1="305.0" x2="482.07" y2="303.3" stroke="#a6a6a6" stroke-width="0.8"/>
<line x1="482.07" y1="171.4" x2="482.07" y2="173.1" stroke="#a6a6a6" stroke-width="0.8"/>
<text x="482.07" y="315.8" font-size="7.8" text-anchor="middle" fill="#404040">8</text>
<line x1="510.53" y1="305.0" x2="510.53" y2="303.3" stroke="#a6a6a6" stroke-width="0.8"/>
<line x1="510.53" y1="171.4" x2="510.53" y2="173.1" stroke="#a6a6a6" stroke-width="0.8"/>
<text x="510.53" y="315.8" font-size="7.8" text-anchor="middle" fill="#404040">10</text>
<line x1="539" y1="305.0" x2="539" y2="303.3" stroke="#a6a6a6" stroke-width="0.8"/>
<line x1="539" y1="171.4" x2="539" y2="173.1" stroke="#a6a6a6" stroke-width="0.8"/>
<text x="539" y="315.8" font-size="7.8" text-anchor="middle" fill="#404040">12</text>
<line x1="368.2" y1="305" x2="369.9" y2="305" stroke="#a6a6a6" stroke-width="0.8"/>
<line x1="539.0" y1="305" x2="537.3" y2="305" stroke="#a6a6a6" stroke-width="0.8"/>
<text x="365.4" y="307.6" font-size="7.8" text-anchor="end" fill="#404040">0</text>
<line x1="368.2" y1="285.91" x2="369.9" y2="285.91" stroke="#a6a6a6" stroke-width="0.8"/>
<line x1="539.0" y1="285.91" x2="537.3" y2="285.91" stroke="#a6a6a6" stroke-width="0.8"/>
<text x="365.4" y="288.51" font-size="7.8" text-anchor="end" fill="#404040">0.2</text>
<line x1="368.2" y1="266.83" x2="369.9" y2="266.83" stroke="#a6a6a6" stroke-width="0.8"/>
<line x1="539.0" y1="266.83" x2="537.3" y2="266.83" stroke="#a6a6a6" stroke-width="0.8"/>
<text x="365.4" y="269.43" font-size="7.8" text-anchor="end" fill="#404040">0.4</text>
<line x1="368.2" y1="247.74" x2="369.9" y2="247.74" stroke="#a6a6a6" stroke-width="0.8"/>
<line x1="539.0" y1="247.74" x2="537.3" y2="247.74" stroke="#a6a6a6" stroke-width="0.8"/>
<text x="365.4" y="250.34" font-size="7.8" text-anchor="end" fill="#404040">0.6</text>
<line x1="368.2" y1="228.66" x2="369.9" y2="228.66" stroke="#a6a6a6" stroke-width="0.8"/>
<line x1="539.0" y1="228.66" x2="537.3" y2="228.66" stroke="#a6a6a6" stroke-width="0.8"/>
<text x="365.4" y="231.26" font-size="7.8" text-anchor="end" fill="#404040">0.8</text>
<line x1="368.2" y1="209.57" x2="369.9" y2="209.57" stroke="#a6a6a6" stroke-width="0.8"/>
<line x1="539.0" y1="209.57" x2="537.3" y2="209.57" stroke="#a6a6a6" stroke-width="0.8"/>
<text x="365.4" y="212.17" font-size="7.8" text-anchor="end" fill="#404040">1</text>
<line x1="368.2" y1="190.49" x2="369.9" y2="190.49" stroke="#a6a6a6" stroke-width="0.8"/>
<line x1="539.0" y1="190.49" x2="537.3" y2="190.49" stroke="#a6a6a6" stroke-width="0.8"/>
<text x="365.4" y="193.09" font-size="7.8" text-anchor="end" fill="#404040">1.2</text>
<line x1="368.2" y1="171.4" x2="369.9" y2="171.4" stroke="#a6a6a6" stroke-width="0.8"/>
<line x1="539.0" y1="171.4" x2="537.3" y2="171.4" stroke="#a6a6a6" stroke-width="0.8"/>
<text x="365.4" y="174" font-size="7.8" text-anchor="end" fill="#404040">1.4</text>
<text x="454.4" y="325.5" font-size="8.6" text-anchor="middle" fill="#333">Time (h)</text>
<text transform="translate(350.3,238) rotate(-90)" font-size="8.6" text-anchor="middle" fill="#333">PEG Sig. / Dox Sig.</text>
<polyline points="375.32,184.86 382.43,229.42 389.55,268.83 396.67,286.49 403.78,296.51 410.9,300.04 418.02,300.8 425.13,301.92 432.25,302.43 439.37,302.64 446.48,302.83 453.6,302.94 460.72,303.03 467.83,303.1 474.95,303.14 482.07,303.16 489.18,303.17 496.3,303.16 503.42,303.16 510.53,303.12 517.65,303.08 524.77,302.91 531.88,302.91 539,302.87" fill="none" stroke="#0000ff" stroke-width="1.2"/>
<circle cx="375.32" cy="184.86" r="1.7" fill="#8080ff" stroke="#0000ff" stroke-width="1.1"/>
<circle cx="382.43" cy="229.42" r="1.7" fill="#8080ff" stroke="#0000ff" stroke-width="1.1"/>
<circle cx="389.55" cy="268.83" r="1.7" fill="#8080ff" stroke="#0000ff" stroke-width="1.1"/>
<circle cx="396.67" cy="286.49" r="1.7" fill="#8080ff" stroke="#0000ff" stroke-width="1.1"/>
<circle cx="403.78" cy="296.51" r="1.7" fill="#8080ff" stroke="#0000ff" stroke-width="1.1"/>
<circle cx="410.9" cy="300.04" r="1.7" fill="#8080ff" stroke="#0000ff" stroke-width="1.1"/>
<circle cx="418.02" cy="300.8" r="1.7" fill="#8080ff" stroke="#0000ff" stroke-width="1.1"/>
<circle cx="425.13" cy="301.92" r="1.7" fill="#8080ff" stroke="#0000ff" stroke-width="1.1"/>
<circle cx="432.25" cy="302.43" r="1.7" fill="#8080ff" stroke="#0000ff" stroke-width="1.1"/>
<circle cx="439.37" cy="302.64" r="1.7" fill="#8080ff" stroke="#0000ff" stroke-width="1.1"/>
<circle cx="446.48" cy="302.83" r="1.7" fill="#8080ff" stroke="#0000ff" stroke-width="1.1"/>
<circle cx="453.6" cy="302.94" r="1.7" fill="#8080ff" stroke="#0000ff" stroke-width="1.1"/>
<circle cx="460.72" cy="303.03" r="1.7" fill="#8080ff" stroke="#0000ff" stroke-width="1.1"/>
<circle cx="467.83" cy="303.1" r="1.7" fill="#8080ff" stroke="#0000ff" stroke-width="1.1"/>
<circle cx="474.95" cy="303.14" r="1.7" fill="#8080ff" stroke="#0000ff" stroke-width="1.1"/>
<circle cx="482.07" cy="303.16" r="1.7" fill="#8080ff" stroke="#0000ff" stroke-width="1.1"/>
<circle cx="489.18" cy="303.17" r="1.7" fill="#8080ff" stroke="#0000ff" stroke-width="1.1"/>
<circle cx="496.3" cy="303.16" r="1.7" fill="#8080ff" stroke="#0000ff" stroke-width="1.1"/>
<circle cx="503.42" cy="303.16" r="1.7" fill="#8080ff" stroke="#0000ff" stroke-width="1.1"/>
<circle cx="510.53" cy="303.12" r="1.7" fill="#8080ff" stroke="#0000ff" stroke-width="1.1"/>
<circle cx="517.65" cy="303.08" r="1.7" fill="#8080ff" stroke="#0000ff" stroke-width="1.1"/>
<circle cx="524.77" cy="302.91" r="1.7" fill="#8080ff" stroke="#0000ff" stroke-width="1.1"/>
<circle cx="531.88" cy="302.91" r="1.7" fill="#8080ff" stroke="#0000ff" stroke-width="1.1"/>
<circle cx="539" cy="302.87" r="1.7" fill="#8080ff" stroke="#0000ff" stroke-width="1.1"/>
<rect x="421.4" y="211.3" width="111.4" height="65.7" fill="#fff" stroke="#8c8c8c" stroke-width="0.85"/>
<line x1="421.4" y1="270.2" x2="422.7" y2="270.2" stroke="#a6a6a6" stroke-width="0.8"/>
<line x1="532.8" y1="270.2" x2="531.5" y2="270.2" stroke="#a6a6a6" stroke-width="0.8"/>
<text x="418" y="272.7" font-size="7" text-anchor="end" fill="#404040">0.015</text>
<line x1="421.4" y1="256.47" x2="422.7" y2="256.47" stroke="#a6a6a6" stroke-width="0.8"/>
<line x1="532.8" y1="256.47" x2="531.5" y2="256.47" stroke="#a6a6a6" stroke-width="0.8"/>
<text x="418" y="258.97" font-size="7" text-anchor="end" fill="#404040">0.02</text>
<line x1="421.4" y1="242.74" x2="422.7" y2="242.74" stroke="#a6a6a6" stroke-width="0.8"/>
<line x1="532.8" y1="242.74" x2="531.5" y2="242.74" stroke="#a6a6a6" stroke-width="0.8"/>
<text x="418" y="245.24" font-size="7" text-anchor="end" fill="#404040">0.025</text>
<line x1="421.4" y1="229.01" x2="422.7" y2="229.01" stroke="#a6a6a6" stroke-width="0.8"/>
<line x1="532.8" y1="229.01" x2="531.5" y2="229.01" stroke="#a6a6a6" stroke-width="0.8"/>
<text x="418" y="231.51" font-size="7" text-anchor="end" fill="#404040">0.03</text>
<line x1="421.4" y1="215.28" x2="422.7" y2="215.28" stroke="#a6a6a6" stroke-width="0.8"/>
<line x1="532.8" y1="215.28" x2="531.5" y2="215.28" stroke="#a6a6a6" stroke-width="0.8"/>
<text x="418" y="217.78" font-size="7" text-anchor="end" fill="#404040">0.035</text>
<line x1="423.3" y1="277.0" x2="423.3" y2="275.7" stroke="#a6a6a6" stroke-width="0.8"/>
<line x1="423.3" y1="211.3" x2="423.3" y2="212.6" stroke="#a6a6a6" stroke-width="0.8"/>
<text x="423.3" y="286.6" font-size="7" text-anchor="middle" fill="#404040">4</text>
<line x1="450.7" y1="277.0" x2="450.7" y2="275.7" stroke="#a6a6a6" stroke-width="0.8"/>
<line x1="450.7" y1="211.3" x2="450.7" y2="212.6" stroke="#a6a6a6" stroke-width="0.8"/>
<text x="450.7" y="286.6" font-size="7" text-anchor="middle" fill="#404040">6</text>
<line x1="478.1" y1="277.0" x2="478.1" y2="275.7" stroke="#a6a6a6" stroke-width="0.8"/>
<line x1="478.1" y1="211.3" x2="478.1" y2="212.6" stroke="#a6a6a6" stroke-width="0.8"/>
<text x="478.1" y="286.6" font-size="7" text-anchor="middle" fill="#404040">8</text>
<line x1="505.5" y1="277.0" x2="505.5" y2="275.7" stroke="#a6a6a6" stroke-width="0.8"/>
<line x1="505.5" y1="211.3" x2="505.5" y2="212.6" stroke="#a6a6a6" stroke-width="0.8"/>
<text x="505.5" y="286.6" font-size="7" text-anchor="middle" fill="#404040">10</text>
<clipPath id="cin"><rect x="421.4" y="211.3" width="111.4" height="65.7"/></clipPath>
<g clip-path="url(#cin)"><polyline points="416.45,190.57 423.3,222.8 430.15,237.3 437,243.4 443.85,248.89 450.7,252.1 457.55,254.79 464.4,256.69 471.25,257.9 478.1,258.5 484.95,258.8 491.8,258.5 498.65,258.5 505.5,257.21 512.35,256.2 519.2,251.2 526.05,251.2 532.9,249.99" fill="none" stroke="#0000ff" stroke-width="1.2"/>
<circle cx="416.45" cy="190.57" r="1.7" fill="#8080ff" stroke="#0000ff" stroke-width="1.1"/>
<circle cx="423.3" cy="222.8" r="1.7" fill="#8080ff" stroke="#0000ff" stroke-width="1.1"/>
<circle cx="430.15" cy="237.3" r="1.7" fill="#8080ff" stroke="#0000ff" stroke-width="1.1"/>
<circle cx="437" cy="243.4" r="1.7" fill="#8080ff" stroke="#0000ff" stroke-width="1.1"/>
<circle cx="443.85" cy="248.89" r="1.7" fill="#8080ff" stroke="#0000ff" stroke-width="1.1"/>
<circle cx="450.7" cy="252.1" r="1.7" fill="#8080ff" stroke="#0000ff" stroke-width="1.1"/>
<circle cx="457.55" cy="254.79" r="1.7" fill="#8080ff" stroke="#0000ff" stroke-width="1.1"/>
<circle cx="464.4" cy="256.69" r="1.7" fill="#8080ff" stroke="#0000ff" stroke-width="1.1"/>
<circle cx="471.25" cy="257.9" r="1.7" fill="#8080ff" stroke="#0000ff" stroke-width="1.1"/>
<circle cx="478.1" cy="258.5" r="1.7" fill="#8080ff" stroke="#0000ff" stroke-width="1.1"/>
<circle cx="484.95" cy="258.8" r="1.7" fill="#8080ff" stroke="#0000ff" stroke-width="1.1"/>
<circle cx="491.8" cy="258.5" r="1.7" fill="#8080ff" stroke="#0000ff" stroke-width="1.1"/>
<circle cx="498.65" cy="258.5" r="1.7" fill="#8080ff" stroke="#0000ff" stroke-width="1.1"/>
<circle cx="505.5" cy="257.21" r="1.7" fill="#8080ff" stroke="#0000ff" stroke-width="1.1"/>
<circle cx="512.35" cy="256.2" r="1.7" fill="#8080ff" stroke="#0000ff" stroke-width="1.1"/>
<circle cx="519.2" cy="251.2" r="1.7" fill="#8080ff" stroke="#0000ff" stroke-width="1.1"/>
<circle cx="526.05" cy="251.2" r="1.7" fill="#8080ff" stroke="#0000ff" stroke-width="1.1"/>
</g>
<line x1="428.1" y1="293.5" x2="441.59" y2="260.92" stroke="#111" stroke-width="1.25" stroke-dasharray="3 1.7"/><polygon points="443.5,256.3 443.99,261.91 439.19,259.93" fill="#111"/>
<line x1="534.4" y1="294.5" x2="521.01" y2="264.08" stroke="#111" stroke-width="1.25" stroke-dasharray="3 1.7"/><polygon points="519,259.5 523.39,263.03 518.63,265.12" fill="#111"/>
</svg>
</body></html>
